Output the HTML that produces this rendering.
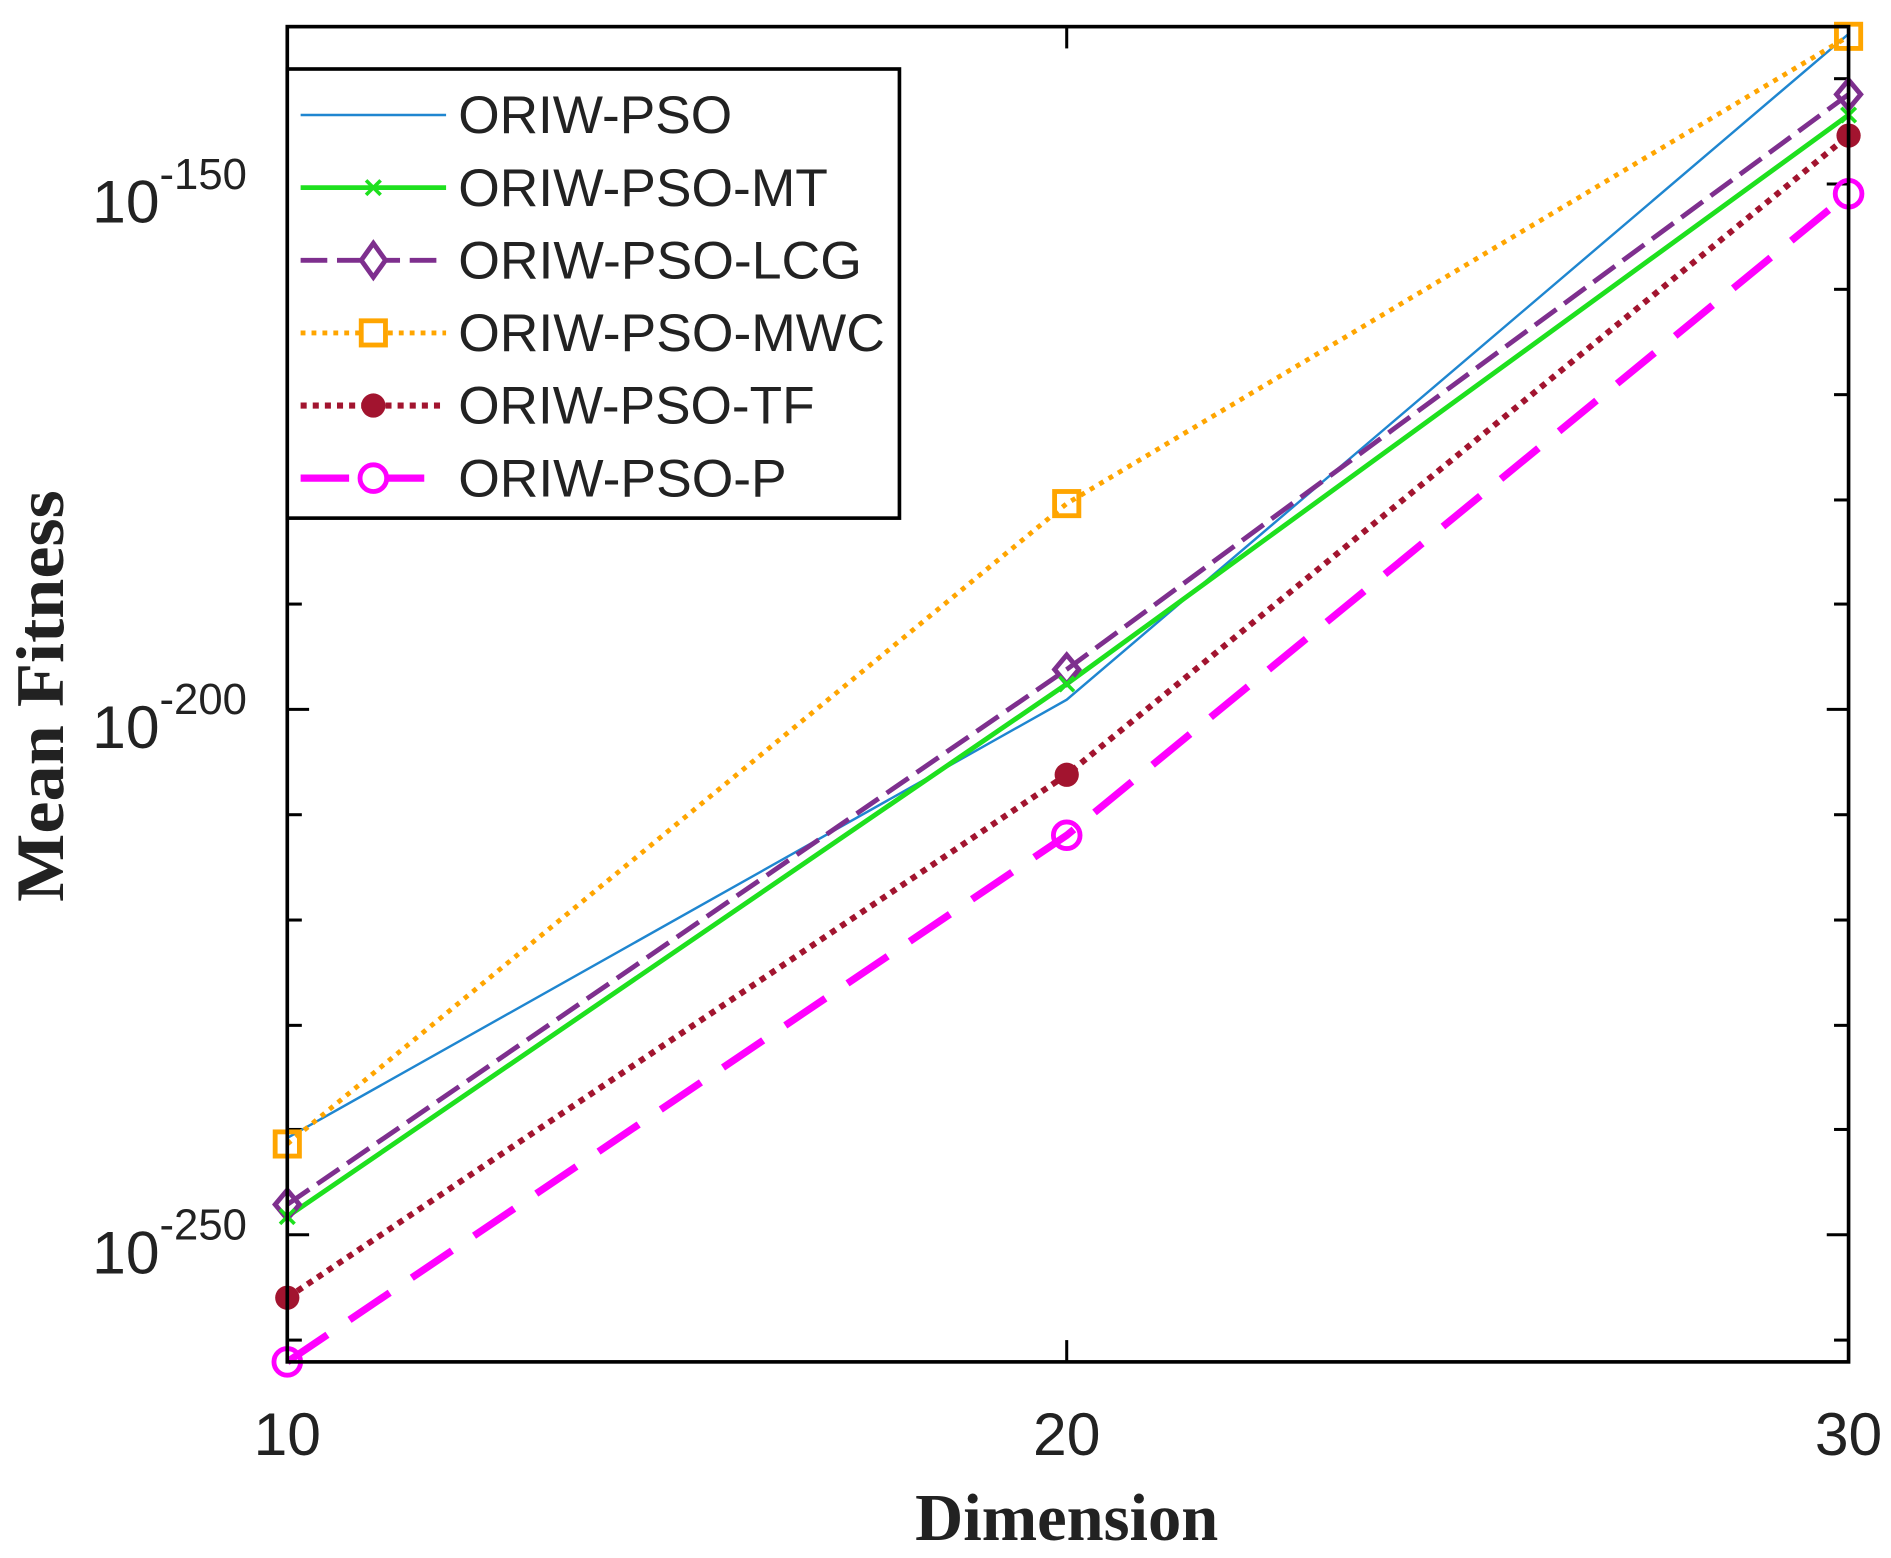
<!DOCTYPE html>
<html><head><style>html,body{margin:0;padding:0;background:#fff}svg{display:block}</style></head><body>
<svg width="1891" height="1558" viewBox="0 0 1560 1287" preserveAspectRatio="none" xmlns="http://www.w3.org/2000/svg" font-family="Liberation Sans, sans-serif">
<rect width="1560" height="1287" fill="#fff"/>
<g stroke="#000" stroke-width="2.5">
<line x1="880" y1="22" x2="880" y2="40"/><line x1="880" y1="1125" x2="880" y2="1107"/>
<g id="yt">
<line x1="237" y1="65" x2="249" y2="65"/><line x1="237" y1="152" x2="255" y2="152"/><line x1="237" y1="239" x2="249" y2="239"/><line x1="237" y1="326" x2="249" y2="326"/><line x1="237" y1="413" x2="249" y2="413"/><line x1="237" y1="499" x2="249" y2="499"/><line x1="237" y1="586" x2="255" y2="586"/><line x1="237" y1="673" x2="249" y2="673"/><line x1="237" y1="760" x2="249" y2="760"/><line x1="237" y1="847" x2="249" y2="847"/><line x1="237" y1="933" x2="249" y2="933"/><line x1="237" y1="1020" x2="255" y2="1020"/><line x1="237" y1="1107" x2="249" y2="1107"/>
</g>
<g transform="translate(1762,0) scale(-1,1)"><use href="#yt"/></g>
</g>
<polyline points="237,940 880,578 1525,28" fill="none" stroke="#1f86d0" stroke-width="2"/>
<polyline points="237,1005 880,565 1525,95" fill="none" stroke="#1ee01e" stroke-width="4"/>
<polyline points="237,995 880,553 1525,78" fill="none" stroke="#7e2f8e" stroke-width="4" stroke-dasharray="22,8"/>
<polyline points="237,945 880,416 1525,30" fill="none" stroke="#ffa500" stroke-width="4" stroke-dasharray="4,5"/>
<polyline points="237,1072 880,640 1525,112" fill="none" stroke="#a2142f" stroke-width="5" stroke-dasharray="5,5"/>
<polyline points="237,1125 880,690 1525,160" fill="none" stroke="#ff00ff" stroke-width="6" stroke-dasharray="40,22"/>
<g fill="none" stroke-width="4">
<path d="M237,983 l10,12 l-10,12 l-10,-12z" stroke="#7e2f8e"/><path d="M880,541 l10,12 l-10,12 l-10,-12z" stroke="#7e2f8e"/><path d="M1525,66 l10,12 l-10,12 l-10,-12z" stroke="#7e2f8e"/>
<rect x="227" y="935" width="20" height="20" stroke="#ffa500"/><rect x="870" y="406" width="20" height="20" stroke="#ffa500"/><rect x="1515" y="20" width="20" height="20" stroke="#ffa500"/>
<circle cx="237" cy="1125" r="11" stroke="#ff00ff"/><circle cx="880" cy="690" r="11" stroke="#ff00ff"/><circle cx="1525" cy="160" r="11" stroke="#ff00ff"/>
</g>
<g fill="#a2142f"><circle cx="237" cy="1072" r="10"/><circle cx="880" cy="640" r="10"/><circle cx="1525" cy="112" r="10"/></g>
<g stroke="#1ee01e" stroke-width="3"><path d="M231,999 l12,12 M243,999 l-12,12"/><path d="M874,559 l12,12 M886,559 l-12,12"/><path d="M1519,89 l12,12 M1531,89 l-12,12"/></g>
<rect x="237" y="22" width="1288" height="1103" fill="none" stroke="#000" stroke-width="3"/>
<rect x="237" y="57" width="505" height="371" fill="#fff" stroke="#000" stroke-width="3"/>
<g font-size="44" fill="#222">
<line x1="248" y1="95" x2="368" y2="95" stroke="#1f86d0" stroke-width="2"/><text x="378" y="110" textLength="226" lengthAdjust="spacingAndGlyphs">ORIW-PSO</text>
<line x1="248" y1="155" x2="368" y2="155" stroke="#1ee01e" stroke-width="4"/><path d="M302,149 l12,12 M314,149 l-12,12" stroke="#1ee01e" stroke-width="3"/><text x="378" y="170" textLength="305" lengthAdjust="spacingAndGlyphs">ORIW-PSO-MT</text>
<line x1="248" y1="215" x2="368" y2="215" stroke="#7e2f8e" stroke-width="4" stroke-dasharray="22,8"/><path d="M308,201 l10,14 l-10,14 l-10,-14z" fill="#fff" stroke="#7e2f8e" stroke-width="4"/><text x="378" y="230" textLength="333" lengthAdjust="spacingAndGlyphs">ORIW-PSO-LCG</text>
<line x1="248" y1="275" x2="368" y2="275" stroke="#ffa500" stroke-width="4" stroke-dasharray="4,5"/><rect x="298" y="265" width="20" height="20" fill="#fff" stroke="#ffa500" stroke-width="4"/><text x="378" y="290" textLength="352" lengthAdjust="spacingAndGlyphs">ORIW-PSO-MWC</text>
<line x1="248" y1="335" x2="368" y2="335" stroke="#a2142f" stroke-width="5" stroke-dasharray="5,5"/><circle cx="308" cy="335" r="10" fill="#a2142f"/><text x="378" y="350" textLength="294" lengthAdjust="spacingAndGlyphs">ORIW-PSO-TF</text>
<line x1="248" y1="395" x2="368" y2="395" stroke="#ff00ff" stroke-width="6" stroke-dasharray="40,22"/><circle cx="308" cy="395" r="11" fill="#fff" stroke="#ff00ff" stroke-width="4"/><text x="378" y="410" textLength="271" lengthAdjust="spacingAndGlyphs">ORIW-PSO-P</text>
</g>
<g font-size="50" fill="#222">
<text x="237" y="1202" text-anchor="middle">10</text>
<text x="880" y="1202" text-anchor="middle">20</text>
<text x="1525" y="1202" text-anchor="middle">30</text>
<text x="76" y="184">10<tspan font-size="36" dy="-28">-150</tspan></text>
<text x="76" y="618">10<tspan font-size="36" dy="-28">-200</tspan></text>
<text x="76" y="1052">10<tspan font-size="36" dy="-28">-250</tspan></text>
</g>
<text x="880" y="1272" text-anchor="middle" font-family="Liberation Serif, serif" font-weight="bold" font-size="55" fill="#222" textLength="250" lengthAdjust="spacingAndGlyphs">Dimension</text>
<text transform="translate(52,575) rotate(-90)" text-anchor="middle" font-family="Liberation Serif, serif" font-weight="bold" font-size="56" fill="#222" textLength="340" lengthAdjust="spacingAndGlyphs">Mean Fitness</text>
</svg>
</body></html>
